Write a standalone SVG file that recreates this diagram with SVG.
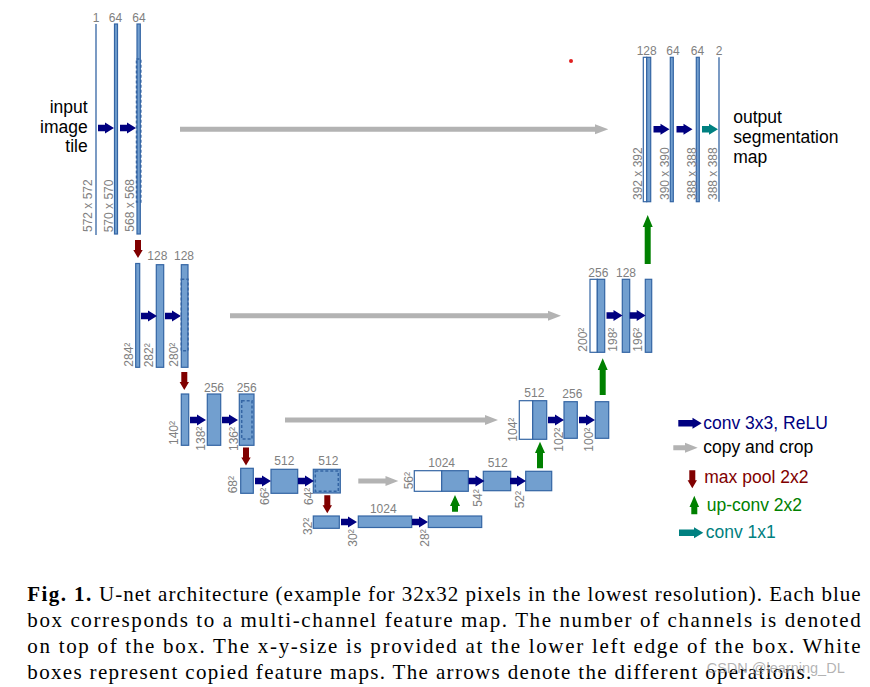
<svg xmlns="http://www.w3.org/2000/svg" xmlns:xlink="http://www.w3.org/1999/xlink" width="870" height="687" viewBox="0 0 870 687">
<style>
.box{fill:#729fcf;stroke:#3465a4;stroke-width:1.2}
.wbox{fill:#ffffff;stroke:#3465a4;stroke-width:1.2}
.line{stroke:#3465a4;stroke-width:1.3;fill:none}
.dash{fill:none;stroke:#3465a4;stroke-width:1.5;stroke-dasharray:3 2}
.ch{font-family:"Liberation Sans",Arial,sans-serif;font-size:12px;fill:#808080;text-anchor:middle}
.sz{font-family:"Liberation Sans",Arial,sans-serif;font-size:12px;fill:#808080}
.lab{font-family:"Liberation Sans",Arial,sans-serif;font-size:17.5px;fill:#000000}
.leg{font-family:"Liberation Sans",Arial,sans-serif;font-size:17.5px}
.cap{font-family:"Liberation Serif","Times New Roman",serif;font-size:21px;fill:#000000}
.conv{fill:#000080}
.copy{fill:#b3b3b3}
.pool{fill:#800000}
.up{fill:#008000}
.c11{fill:#008080}
</style>
<defs>
<path id="convA" d="M0,-3.3 H7 V-5.5 L16,0 L7,5.5 V3.3 H0 Z"/>
<path id="poolA" d="M-3,0 H3 V10 H4.7 L0,18 L-4.7,10 H-3 Z"/>
</defs>
<rect width="870" height="687" fill="#ffffff"/>

<!-- Level 1 contracting -->
<g id="n_l1a">
<line class="line" x1="96" y1="24" x2="96" y2="235"/>
<text class="ch" x="96" y="22">1</text>
<text class="sz" transform="translate(91.7,232) rotate(-90)">572 x 572</text>
</g>
<g id="n_l1b">
<rect class="box" x="114.5" y="24" width="3" height="210"/>
<text class="ch" x="115.5" y="22">64</text>
<text class="sz" transform="translate(112.7,232.3) rotate(-90)">570 x 570</text>
</g>
<g id="n_l1c">
<rect class="box" x="137" y="24" width="3.3" height="210"/>
<rect class="dash" x="136.5" y="59" width="4.3" height="143"/>
<text class="ch" x="139" y="22">64</text>
<text class="sz" transform="translate(134,231.7) rotate(-90)">568 x 568</text>
</g>

<!-- Level 2 contracting -->
<g id="n_l2a">
<rect class="box" x="135.7" y="263.5" width="4" height="103.8"/>
<text class="sz" transform="translate(133.3,366.7) rotate(-90)">284²</text>
</g>
<g id="n_l2b">
<rect class="box" x="156.3" y="264.7" width="7.4" height="102.6"/>
<text class="ch" x="157.3" y="260">128</text>
<text class="sz" transform="translate(153.3,367.3) rotate(-90)">282²</text>
</g>
<g id="n_l2c">
<rect class="box" x="181.3" y="264.7" width="6.7" height="102.6"/>
<rect class="dash" x="181.3" y="279.3" width="6.7" height="71.4"/>
<text class="ch" x="184" y="260">128</text>
<text class="sz" transform="translate(178.3,366.7) rotate(-90)">280²</text>
</g>

<!-- Level 3 contracting -->
<g id="n_l3a">
<rect class="box" x="181.3" y="394" width="7.4" height="51.3"/>
<text class="sz" transform="translate(178.3,445) rotate(-90)">140²</text>
</g>
<g id="n_l3b">
<rect class="box" x="207.3" y="394" width="13.4" height="51.3"/>
<text class="ch" x="214" y="391.7">256</text>
<text class="sz" transform="translate(205,450.7) rotate(-90)">138²</text>
</g>
<g id="n_l3c">
<rect class="box" x="239.3" y="394" width="14.7" height="51.3"/>
<rect class="dash" x="241.7" y="400.7" width="10.3" height="38.3"/>
<text class="ch" x="246.7" y="391.7">256</text>
<text class="sz" transform="translate(238.3,451) rotate(-90)">136²</text>
</g>

<!-- Level 4 contracting -->
<g id="n_l4a">
<rect class="box" x="240.7" y="468.3" width="12.6" height="25"/>
<text class="sz" transform="translate(237.3,493.3) rotate(-90)">68²</text>
</g>
<g id="n_l4b">
<rect class="box" x="271" y="469.3" width="26.7" height="24"/>
<text class="ch" x="284.3" y="465">512</text>
<text class="sz" transform="translate(269,505) rotate(-90)">66²</text>
</g>
<g id="n_l4c">
<rect class="box" x="313.3" y="469.3" width="27" height="23.7"/>
<rect class="dash" x="315.3" y="471" width="23" height="20.3"/>
<text class="ch" x="328.3" y="465">512</text>
<text class="sz" transform="translate(312.7,505) rotate(-90)">64²</text>
</g>

<!-- Level 5 -->
<g id="n_l5a">
<rect class="box" x="313.3" y="516" width="26" height="12.3"/>
<text class="sz" transform="translate(311.7,535) rotate(-90)">32²</text>
</g>
<g id="n_l5b">
<rect class="box" x="358.3" y="516" width="53.4" height="11.5"/>
<text class="ch" x="383.3" y="512.7">1024</text>
<text class="sz" transform="translate(356.7,546.7) rotate(-90)">30²</text>
</g>
<g id="n_l5c">
<rect class="box" x="428.3" y="516" width="53.4" height="11.5"/>
<text class="sz" transform="translate(429.3,546.7) rotate(-90)">28²</text>
</g>

<!-- Level 4 expanding -->
<g id="n_r4a">
<rect class="wbox" x="414.3" y="470.7" width="27.4" height="20.6"/>
<rect class="box" x="441.7" y="470.7" width="26.6" height="20.6"/>
<text class="ch" x="441.7" y="466.7">1024</text>
<text class="sz" transform="translate(412.7,489.3) rotate(-90)">56²</text>
</g>
<g id="n_r4b">
<rect class="box" x="483.3" y="471.3" width="27.4" height="19.4"/>
<text class="ch" x="497.7" y="466.7">512</text>
<text class="sz" transform="translate(481.7,506.7) rotate(-90)">54²</text>
</g>
<g id="n_r4c">
<rect class="box" x="525.7" y="471.3" width="26" height="19.4"/>
<text class="sz" transform="translate(524.3,508.3) rotate(-90)">52²</text>
</g>

<!-- Level 3 expanding -->
<g id="n_r3a">
<rect class="wbox" x="519.3" y="400.7" width="13.4" height="38.6"/>
<rect class="box" x="532.7" y="400.7" width="14" height="38.6"/>
<text class="ch" x="534.3" y="397.3">512</text>
<text class="sz" transform="translate(516.7,441.7) rotate(-90)">104²</text>
</g>
<g id="n_r3b">
<rect class="box" x="564" y="401.7" width="13.3" height="36.6"/>
<text class="ch" x="572.3" y="398">256</text>
<text class="sz" transform="translate(562.7,451.7) rotate(-90)">102²</text>
</g>
<g id="n_r3c">
<rect class="box" x="595.3" y="401.7" width="13.4" height="36.6"/>
<text class="sz" transform="translate(593.3,451.7) rotate(-90)">100²</text>
</g>

<!-- Level 2 expanding -->
<g id="n_r2a">
<rect class="wbox" x="590" y="279.3" width="7.3" height="73"/>
<rect class="box" x="597.3" y="279.3" width="7.4" height="73"/>
<text class="ch" x="598.3" y="276.7">256</text>
<text class="sz" transform="translate(586.7,351.7) rotate(-90)">200²</text>
</g>
<g id="n_r2b">
<rect class="box" x="622.3" y="279.3" width="7.4" height="73"/>
<text class="ch" x="626" y="276.7">128</text>
<text class="sz" transform="translate(617.3,351.7) rotate(-90)">198²</text>
</g>
<g id="n_r2c">
<rect class="box" x="645.3" y="279.3" width="6.4" height="73"/>
<text class="sz" transform="translate(642.3,351.7) rotate(-90)">196²</text>
</g>

<!-- Level 1 expanding -->
<g id="n_r1a">
<rect class="wbox" x="643.3" y="57.3" width="3.4" height="144.4"/>
<rect class="box" x="646.7" y="57.3" width="4" height="144.4"/>
<text class="ch" x="646.7" y="55">128</text>
<text class="sz" transform="translate(641.7,200) rotate(-90)">392 x 392</text>
</g>
<g id="n_r1b">
<rect class="box" x="670.3" y="57.3" width="3" height="144.4"/>
<text class="ch" x="673" y="55">64</text>
<text class="sz" transform="translate(669.3,200) rotate(-90)">390 x 390</text>
</g>
<g id="n_r1c">
<rect class="box" x="696.3" y="57.3" width="3" height="144.4"/>
<text class="ch" x="697.5" y="55">64</text>
<text class="sz" transform="translate(695.7,200) rotate(-90)">388 x 388</text>
</g>
<g id="n_r1d">
<line class="line" x1="719" y1="57.3" x2="719" y2="201.7"/>
<text class="ch" x="719" y="55">2</text>
<text class="sz" transform="translate(717.3,200) rotate(-90)">388 x 388</text>
</g>

<!-- Labels -->
<g id="input_label">
<text class="lab" x="87.7" y="113.3" text-anchor="end">input</text>
<text class="lab" x="87.7" y="132.7" text-anchor="end">image</text>
<text class="lab" x="87.7" y="151.7" text-anchor="end">tile</text>
</g>
<g id="output_label">
<text class="lab" x="733.3" y="123.3">output</text>
<text class="lab" x="733.3" y="143.3">segmentation</text>
<text class="lab" x="733.3" y="163.3">map</text>
</g>

<circle cx="571" cy="61" r="2" fill="#e02020"/>

<!-- Connectors -->
<g id="connectors">
<!-- conv 3x3 -->
<use href="#convA" class="conv" x="98" y="128"/>
<use href="#convA" class="conv" x="120" y="128"/>
<use href="#convA" class="conv" x="141" y="316"/>
<use href="#convA" class="conv" x="165" y="316"/>
<use href="#convA" class="conv" x="190" y="420"/>
<use href="#convA" class="conv" x="222" y="420"/>
<use href="#convA" class="conv" x="255" y="481"/>
<use href="#convA" class="conv" x="298" y="481"/>
<use href="#convA" class="conv" x="341" y="522"/>
<use href="#convA" class="conv" x="412" y="522"/>
<use href="#convA" class="conv" x="468.5" y="481"/>
<use href="#convA" class="conv" x="510" y="481"/>
<use href="#convA" class="conv" x="548" y="420"/>
<use href="#convA" class="conv" x="579" y="420"/>
<use href="#convA" class="conv" x="606.5" y="315.5"/>
<use href="#convA" class="conv" x="629.7" y="315.5"/>
<use href="#convA" class="conv" x="653.5" y="129.3"/>
<use href="#convA" class="conv" x="676.5" y="129.3"/>
<!-- conv 1x1 -->
<use href="#convA" class="c11" x="702" y="129.3"/>
<!-- copy and crop -->
<path class="copy" d="M180,126.8 H595 V124.3 L608.3,129.3 L595,134.3 V131.8 H180 Z"/>
<path class="copy" d="M230,313.3 H548 V310.8 L561,315.8 L548,320.8 V318.3 H230 Z"/>
<path class="copy" d="M285,417.5 H485 V415 L498,420 L485,425 V422.5 H285 Z"/>
<path class="copy" d="M358.3,478.5 H385.5 V476 L398.3,481 L385.5,486 V483.5 H358.3 Z"/>
<!-- max pool -->
<use href="#poolA" class="pool" x="138" y="240"/>
<use href="#poolA" class="pool" x="184.3" y="372"/>
<use href="#poolA" class="pool" x="246" y="447.5"/>
<use href="#poolA" class="pool" x="327.3" y="495.3"/>
<!-- up-conv -->
<path class="up" d="M452,511.7 V506 H450 L455,495 L460,506 H458 V511.7 Z"/>
<path class="up" d="M537,468.3 V453 H535 L540,441.7 L545,453 H543 V468.3 Z"/>
<path class="up" d="M599.7,395 V370 H597.7 L602.7,358.3 L607.7,370 H605.7 V395 Z"/>
<path class="up" d="M644.7,264 V227 H642.7 L647.7,215 L652.7,227 H650.7 V264 Z"/>
</g>

<!-- Legend -->
<g id="legend">
<path class="conv" d="M678.3,420 H692.5 V417.8 L701.7,423.3 L692.5,428.8 V426.6 H678.3 Z"/>
<text class="leg" x="703.3" y="429.3" fill="#000080">conv 3x3, ReLU</text>
<path class="copy" d="M673.3,445.2 H685 V442.7 L697.7,447.7 L685,452.7 V450.2 H673.3 Z"/>
<text class="leg" x="703.3" y="453.3" fill="#000000">copy and crop</text>
<use href="#poolA" class="pool" x="692.3" y="470.3"/>
<text class="leg" x="704.3" y="482.7" fill="#800000">max pool 2x2</text>
<path class="up" d="M691.3,514.3 V507 H689.5 L694.3,495.7 L699.1,507 H697.3 V514.3 Z"/>
<text class="leg" x="706.7" y="511" fill="#008000">up-conv 2x2</text>
<path class="c11" d="M679,529.4 H694 V527.2 L703.3,532.7 L694,538.2 V536 H679 Z"/>
<text class="leg" x="705.7" y="537.7" fill="#008080">conv 1x1</text>
</g>

<!-- Caption -->
<g id="caption">
<text class="cap" x="27.3" y="600.5" font-weight="bold" textLength="64" lengthAdjust="spacing">Fig. 1.</text>
<text class="cap" x="99" y="600.5" textLength="761.7" lengthAdjust="spacing">U-net architecture (example for 32x32 pixels in the lowest resolution). Each blue</text>
<text class="cap" x="27.3" y="626.7" textLength="833.4" lengthAdjust="spacing">box corresponds to a multi-channel feature map. The number of channels is denoted</text>
<text class="cap" x="27.3" y="652.9" textLength="833.4" lengthAdjust="spacing">on top of the box. The x-y-size is provided at the lower left edge of the box. White</text>
<text class="cap" x="27.3" y="679" textLength="784" lengthAdjust="spacing">boxes represent copied feature maps. The arrows denote the different operations.</text>
</g>
<text x="706.7" y="673" font-family="'Liberation Sans',Arial,sans-serif" font-size="14.5px" fill="#9a9a9a" fill-opacity="0.75">CSDN @learning_DL</text>
</svg>
